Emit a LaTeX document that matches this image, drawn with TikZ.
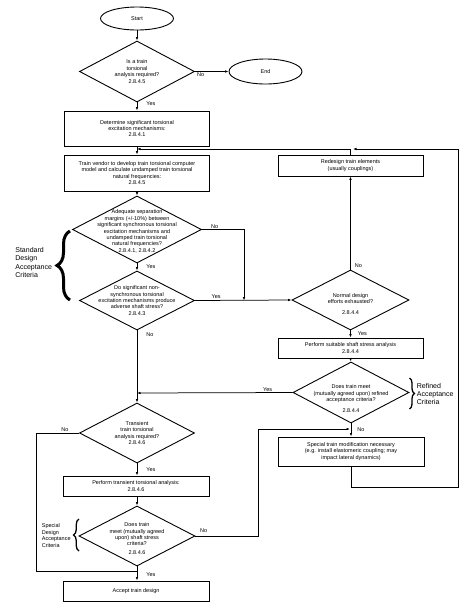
\documentclass[tikz,border=0pt]{standalone}
\usepackage{fontspec}
\setmainfont{Liberation Sans}
\usetikzlibrary{shapes.geometric,arrows.meta,decorations.pathreplacing}

\tikzset{
  txt/.style={font=\fontsize{5.5}{6.4}\selectfont, align=center},
  term/.style={ellipse, draw, line width=0.9pt, txt, minimum width=73pt, minimum height=23pt, inner sep=0pt},
  box/.style={rectangle, draw, line width=0.9pt, txt, minimum width=145pt, inner sep=1pt},
  decision/.style={diamond, draw, line width=0.9pt, minimum width=115pt, minimum height=60pt, inner sep=0pt},
  dtxt/.style={txt, inner sep=0pt},
  lbl/.style={font=\fontsize{5.5}{6.4}\selectfont, inner sep=1pt},
  crit/.style={font=\fontsize{7}{8.3}\selectfont, align=left, inner sep=0pt},
  critbrace/.style={decorate, decoration={brace, amplitude=#1}}
}

\begin{document}
\begin{tikzpicture}[x=1pt, y=-1pt, line width=0.75pt, >={Latex[length=3.5pt,width=2.6pt]}]
    \useasboundingbox (0,0) rectangle (474,606);

    % main column
    \node[term] (start) at (137,18.5) {Start};
    \node[decision, minimum height=61pt, label={[dtxt]center:{Is a train\\torsional\\analysis required?\\2.8.4.5}}] (isreq) at (137,71.5) {};
    \node[term, minimum height=25pt] (fin) at (265.5,71.5) {End};
    \node[box, minimum height=35pt] (determ) at (137,128.5) {Determine significant torsional\\excitation mechanisms:\\2.8.4.1};
    \node[box, minimum height=36pt] (vendor) at (137,173) {Train vendor to develop train torsional computer\\model and calculate undamped train torsional\\natural frequencies:\\2.8.4.5};
    \node[decision, minimum width=129pt, minimum height=67pt, label={[dtxt, yshift=-2pt]center:{Adequate separation\\margins (+/-10\%) between\\significant synchronous torsional\\excitation mechanisms and\\undamped train torsional\\natural frequencies?\\2.8.4.1, 2.8.4.2}}] (margins) at (137,229.5) {};
    \node[decision, minimum height=59pt, label={[dtxt]center:{Do significant non-\\synchronous torsional\\excitation mechanisms produce\\adverse shaft stress?\\2.8.4.3}}] (nonsync) at (137,300.5) {};
    \node[decision, label={[dtxt]center:{Transient\\train torsional\\analysis required?\\2.8.4.6}}] (transient) at (137,433) {};
    \node[box, minimum width=146pt, minimum height=20pt] (transan) at (136,486) {Perform transient torsional analysis:\\2.8.4.6};
    \node[decision, minimum width=116pt, label={[dtxt, yshift=-2.5pt]center:{Does train\\meet (mutually agreed\\upon) shaft stress\\criteria?\\[2pt]2.8.4.6}}] (shaftok) at (137,536) {};
    \node[box, minimum width=146pt, minimum height=20pt] (accept) at (136,591) {Accept train design};

    % right column
    \node[box, minimum height=21pt] (redesign) at (350.5,165.5) {Redesign train elements\\(usually couplings)};
    \node[decision, minimum width=117pt, label={[dtxt, yshift=-4pt]center:{Normal design\\efforts exhausted?\\[4pt]2.8.4.4}}] (exhaust) at (350.5,300) {};
    \node[box, minimum height=20pt] (shaftan) at (350.5,348) {Perform suitable shaft stress analysis\\2.8.4.4};
    \node[decision, minimum width=116pt, minimum height=61pt, label={[dtxt, yshift=-6pt]center:{Does train meet\\(mutually agreed upon) refined\\acceptance criteria?\\[4pt]2.8.4.4}}] (refined) at (351,392.5) {};
    \node[box, minimum width=146pt, minimum height=29pt] (special) at (351,451.5) {Special train modification necessary\\(e.g. install elastomeric coupling; may\\impact lateral dynamics)};

    % criteria
    \node[crit, anchor=west] (stdcrit) at (15,262.5) {Standard\\Design\\Acceptance\\Criteria};
    \node[crit, anchor=west] (refcrit) at (416.5,394) {Refined\\Acceptance\\Criteria};
    \node[crit, font=\fontsize{5.5}{6.7}\selectfont, anchor=west] (spccrit) at (41.5,535.5) {Special\\Design\\Acceptance\\Criteria};
    \draw[critbrace=13pt, line width=3pt] (70,300) -- (70,231);
    \draw[critbrace=5pt, line width=1.3pt] (409.5,378) -- (409.5,409);
    \draw[critbrace=5.5pt, line width=1.3pt] (79,551) -- (79,519);

    % junctions
    \coordinate (jtop) at (137,149);
    \coordinate (jred) at (353,149);
    \coordinate (rloop) at (458,487);
    \coordinate (jmid) at (244,300.5);
    \coordinate (jyes) at (137,393);
    \coordinate (sloop) at (258,429);
    \coordinate (jspec) at (350,429);
    \coordinate (jacc) at (137,571);

    % connectors
    \draw[->] (start.south) -- (isreq.north);
    \draw[->] (isreq.east) -- node[lbl, below, pos=0.17] {No} (fin.west);
    \draw[->] (isreq.south) -- node[lbl, right, pos=0.2, xshift=8pt] {Yes} (determ.north);
    \draw[->] (determ.south) -- (vendor.north);
    \draw[->] (vendor.south) -- (margins.north);
    \draw[->] (margins.south) -- node[lbl, right, xshift=8pt] {Yes} (nonsync.north);
    \draw[->] (margins.east) -- node[lbl, above, pos=0.3] {No} (margins.east -| jmid) -- (jmid);
    \draw[->] (nonsync.east) -- node[lbl, above, pos=0.22] {Yes} (exhaust.west);
    \draw[->] (nonsync.south) -- node[lbl, right, pos=0.06, xshift=8pt] {No} (transient.north);
    \draw[->] (exhaust.north) -- node[lbl, right, pos=0.04, xshift=3pt] {No} (redesign.south);
    \draw[->] (redesign.north) |- (jtop);
    \draw[->] (exhaust.south) -- node[lbl, right, xshift=6pt] {Yes} (shaftan.north);
    \draw[->] (shaftan.south) -- (refined.north);
    \draw[->] (refined.west) -- node[lbl, above, pos=0.16] {Yes} (jyes);
    \draw[->] (refined.south) -- node[lbl, right, xshift=5pt] {No} (special.north);
    \draw[->] (special.south) |- (rloop) |- (jred);
    \draw (transient.west) -- node[lbl, above, pos=0.33] {No} ++(-43,0) |- (jacc);
    \draw[->] (transient.south) -- node[lbl, right, xshift=8pt] {Yes} (transient.south |- transan.north);
    \draw[->] (transient.south |- transan.south) -- (shaftok.north);
    \draw[->] (shaftok.east) -- node[lbl, above, pos=0.13, yshift=2pt] {No} (shaftok.east -| sloop) -- (sloop) -- (jspec);
    \draw[->] (shaftok.south) -- node[lbl, right, pos=0.6, xshift=8pt] {Yes} (shaftok.south |- accept.north);
  \end{tikzpicture}
\end{document}
